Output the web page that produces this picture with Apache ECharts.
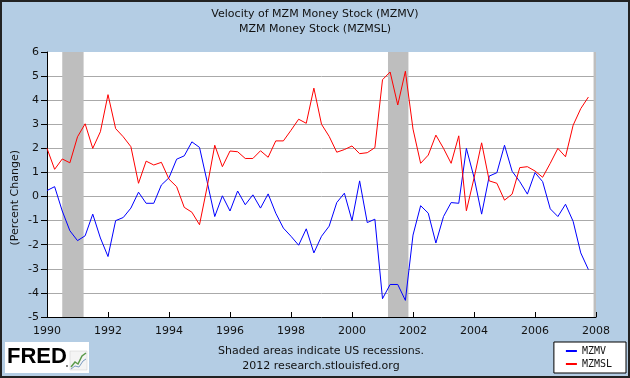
<!DOCTYPE html>
<html><head><meta charset="utf-8">
<script src="https://cdn.jsdelivr.net/npm/echarts@6/dist/echarts.min.js"></script>
<style>html,body{margin:0;padding:0;background:#B4CDE4}#c{width:630px;height:378px}</style>
</head><body><div id="c"></div>
<script>
const quarters = [
 "1990Q1","1990Q2","1990Q3","1990Q4","1991Q1","1991Q2","1991Q3","1991Q4",
 "1992Q1","1992Q2","1992Q3","1992Q4","1993Q1","1993Q2","1993Q3","1993Q4",
 "1994Q1","1994Q2","1994Q3","1994Q4","1995Q1","1995Q2","1995Q3","1995Q4",
 "1996Q1","1996Q2","1996Q3","1996Q4","1997Q1","1997Q2","1997Q3","1997Q4",
 "1998Q1","1998Q2","1998Q3","1998Q4","1999Q1","1999Q2","1999Q3","1999Q4",
 "2000Q1","2000Q2","2000Q3","2000Q4","2001Q1","2001Q2","2001Q3","2001Q4",
 "2002Q1","2002Q2","2002Q3","2002Q4","2003Q1","2003Q2","2003Q3","2003Q4",
 "2004Q1","2004Q2","2004Q3","2004Q4","2005Q1","2005Q2","2005Q3","2005Q4",
 "2006Q1","2006Q2","2006Q3","2006Q4","2007Q1","2007Q2","2007Q3","2007Q4"
];
const mzmv = [
 0.25, 0.41, -0.60, -1.42, -1.83, -1.63, -0.73, -1.72,
 -2.49, -1.00, -0.87, -0.48, 0.18, -0.28, -0.28, 0.48,
 0.78, 1.55, 1.69, 2.27, 2.04, 0.62, -0.83, 0.03,
 -0.60, 0.23, -0.34, 0.07, -0.48, 0.11, -0.69, -1.31,
 -1.65, -2.02, -1.34, -2.34, -1.65, -1.23, -0.25, 0.14,
 -1.00, 0.65, -1.08, -0.94, -4.24, -3.65, -3.65, -4.31,
 -1.60, -0.38, -0.69, -1.93, -0.83, -0.25, -0.28, 2.00,
 0.80, -0.73, 0.85, 0.99, 2.13, 1.05, 0.62, 0.10,
 0.99, 0.62, -0.51, -0.83, -0.32, -1.03, -2.34, -3.03
];
const mzmsl = [
 2.00, 1.13, 1.56, 1.40, 2.48, 3.02, 2.00, 2.69,
 4.23, 2.82, 2.48, 2.07, 0.55, 1.47, 1.31, 1.42,
 0.72, 0.41, -0.45, -0.65, -1.17, 0.40, 2.13, 1.24,
 1.89, 1.86, 1.58, 1.58, 1.90, 1.63, 2.31, 2.31,
 2.75, 3.21, 3.04, 4.50, 3.00, 2.50, 1.84, 1.95,
 2.10, 1.78, 1.82, 2.03, 4.85, 5.17, 3.80, 5.20,
 2.80, 1.38, 1.72, 2.55, 2.00, 1.38, 2.52, -0.59,
 0.76, 2.23, 0.65, 0.55, -0.15, 0.10, 1.20, 1.24,
 1.06, 0.80, 1.38, 2.00, 1.65, 2.96, 3.65, 4.13
];
const recessions = [[1990.5, 1991.2], [2001.18, 2001.85], [2007.92, 2008]];
const seriesNames = ["MZMV", "MZMSL"];
const titleLines = ["Velocity of MZM Money Stock (MZMV)", "MZM Money Stock (MZMSL)"];
const footLines = ["Shaded areas indicate US recessions.", "2012 research.stlouisfed.org"];

const toYear = q => +q.slice(0, 4) + (+q[5] - 1) / 4;
const FONT = "DejaVu Sans";
const chart = echarts.init(document.getElementById('c'), null, {renderer: 'canvas'});
const gridColors = [];
for (let v = -5; v <= 6; v++) gridColors.push(v === 6 || v === -5 ? 'rgba(0,0,0,0)' : '#AAAAAA');

chart.setOption({
  animation: false,
  backgroundColor: '#B4CDE4',
  title: {
    text: titleLines.join('\n'),
    left: 'center', top: 2,
    textStyle: {fontFamily: FONT, fontSize: 11, fontWeight: 'normal', color: '#111', lineHeight: 15}
  },
  grid: {left: 47, top: 52, width: 549, height: 265, show: true, backgroundColor: '#fff', borderWidth: 0},
  xAxis: {
    type: 'value', min: 1990, max: 2008, interval: 2,
    axisLine: {show: true, onZero: false, lineStyle: {color: '#000', width: 1}},
    axisTick: {show: true, inside: true, length: 5, lineStyle: {color: '#000'}},
    axisLabel: {margin: 9, color: '#111', fontFamily: FONT, fontSize: 11, formatter: v => String(v)},
    splitLine: {show: false}
  },
  yAxis: {
    type: 'value', min: -5, max: 6, interval: 1,
    axisLine: {show: true, lineStyle: {color: '#000', width: 1}},
    axisTick: {show: true, inside: false, length: 6, lineStyle: {color: '#000'}},
    axisLabel: {margin: 8, color: '#111', fontFamily: FONT, fontSize: 11},
    splitLine: {show: true, lineStyle: {color: gridColors, width: 1}}
  },
  legend: {
    orient: 'vertical', right: 4, bottom: 5,
    data: seriesNames,
    icon: 'rect', itemWidth: 11, itemHeight: 2, itemGap: 3,
    backgroundColor: '#fff', borderColor: '#000', borderWidth: 1,
    padding: [4, 14, 4, 12], borderRadius: 0,
    textStyle: {fontFamily: 'DejaVu Sans Mono', fontSize: 10, color: '#111'}
  },
  graphic: [
    {type: 'text', left: 10, top: 150, rotation: Math.PI / 2,
     style: {text: '(Percent Change)', font: '11px "DejaVu Sans"', fill: '#111'}},
    {type: 'text', x: 321, y: 344,
     style: {text: footLines.join('\n'), font: '11px "DejaVu Sans"', fill: '#111', align: 'center', lineHeight: 15}},
    {type: 'rect', shape: {x: 5, y: 342, width: 84, height: 31}, style: {fill: '#fff'}},
    {type: 'text', x: 7, y: 346,
     style: {text: 'FRED', font: 'bold 22px "Liberation Sans"', fill: '#000'}},
    {type: 'circle', shape: {cx: 67, cy: 366, r: 1}, style: {fill: '#555'}},
    {type: 'rect', shape: {x: 70, y: 351, width: 17, height: 19}, style: {fill: '#f4f4f4', stroke: '#ccc', lineWidth: 0.5}},
    {type: 'polyline', shape: {points: [[71, 367], [75, 362], [78, 364], [82, 356], [86, 353]]}, style: {stroke: '#5a9a4a', lineWidth: 1.5, fill: null}},
    {type: 'polyline', shape: {points: [[71, 369], [75, 366], [79, 367], [83, 361], [86, 359]]}, style: {stroke: '#7a9ac0', lineWidth: 1, fill: null}},
    {type: 'rect', shape: {x: 1, y: 1, width: 628, height: 376}, style: {fill: null, stroke: '#222', lineWidth: 2}, z: 100}
  ],
  series: [
    {
      name: seriesNames[0], type: 'line', showSymbol: false, symbol: 'none', z: 3,
      lineStyle: {color: '#0000FF', width: 1}, itemStyle: {color: '#0000FF'},
      data: quarters.map((q, i) => [toYear(q), mzmv[i]]),
      markArea: {
        silent: true, itemStyle: {color: '#BEBEBE', opacity: 1},
        data: recessions.map(r => [{xAxis: r[0]}, {xAxis: r[1]}])
      }
    },
    {
      name: seriesNames[1], type: 'line', showSymbol: false, symbol: 'none', z: 4,
      lineStyle: {color: '#FF0000', width: 1}, itemStyle: {color: '#FF0000'},
      data: quarters.map((q, i) => [toYear(q), mzmsl[i]])
    }
  ]
});
</script></body></html>
